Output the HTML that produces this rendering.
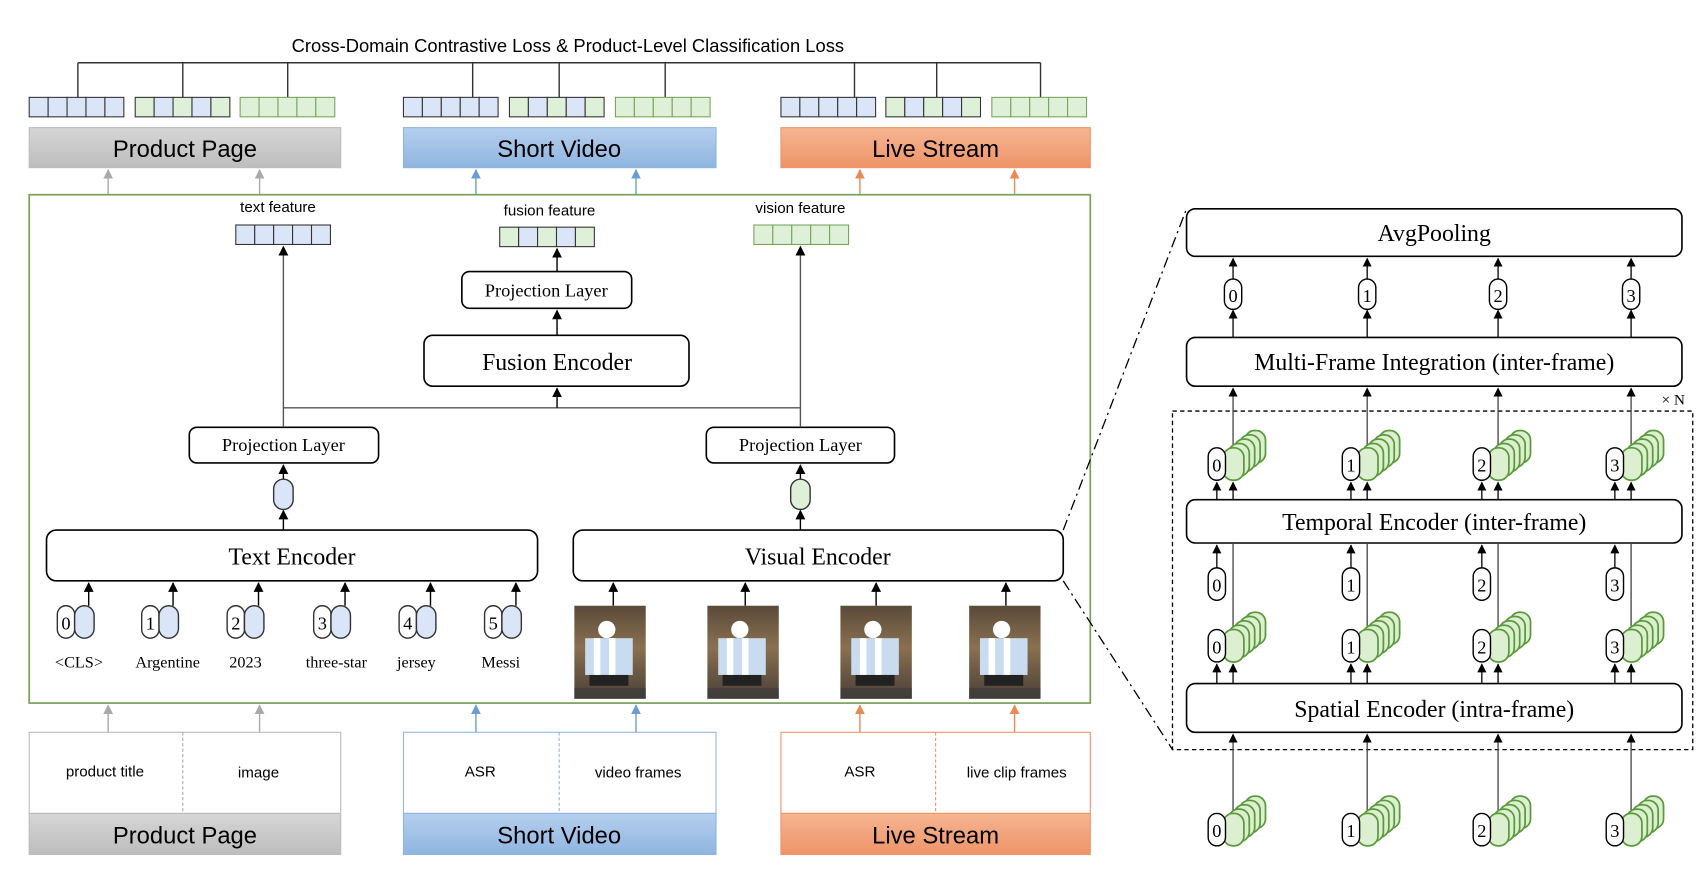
<!DOCTYPE html>
<html><head><meta charset="utf-8"><style>
html,body{margin:0;padding:0;background:#fff;}
svg{display:block}
.s{font-family:"Liberation Sans",sans-serif}
.r{font-family:"Liberation Serif",serif}
</style></head><body>
<svg width="1696" height="874" viewBox="0 0 1568 808" xmlns="http://www.w3.org/2000/svg">
<defs>
<marker id="ak" viewBox="0 0 10 10" refX="9" refY="5" markerWidth="7" markerHeight="7" orient="auto"><path d="M0,0L10,5L0,10z" fill="#000"/></marker>
<marker id="ag" viewBox="0 0 10 10" refX="9" refY="5" markerWidth="7" markerHeight="7" orient="auto"><path d="M0,0L10,5L0,10z" fill="#aaa"/></marker>
<marker id="ab" viewBox="0 0 10 10" refX="9" refY="5" markerWidth="7" markerHeight="7" orient="auto"><path d="M0,0L10,5L0,10z" fill="#6a9fd4"/></marker>
<marker id="ao" viewBox="0 0 10 10" refX="9" refY="5" markerWidth="7" markerHeight="7" orient="auto"><path d="M0,0L10,5L0,10z" fill="#ec8a55"/></marker>
<linearGradient id="gg" x1="0" y1="0" x2="0" y2="1"><stop offset="0" stop-color="#d6d6d6"/><stop offset="1" stop-color="#bdbdbd"/></linearGradient>
<linearGradient id="gb" x1="0" y1="0" x2="0" y2="1"><stop offset="0" stop-color="#b5cfee"/><stop offset="1" stop-color="#8fb5e0"/></linearGradient>
<linearGradient id="go" x1="0" y1="0" x2="0" y2="1"><stop offset="0" stop-color="#f6b592"/><stop offset="1" stop-color="#ee9468"/></linearGradient>
<linearGradient id="gp" x1="0" y1="0" x2="0" y2="1"><stop offset="0" stop-color="#5a4a3a"/><stop offset="0.45" stop-color="#8a7050"/><stop offset="1" stop-color="#4a4038"/></linearGradient>
<g id="stk" fill="#dcefd0" stroke="#5a9a3a" stroke-width="1.6">
<rect x="20" y="-16" width="19" height="30" rx="9"/><rect x="15" y="-12" width="19" height="30" rx="9"/><rect x="10" y="-8" width="19" height="30" rx="9"/><rect x="5" y="-4" width="19" height="30" rx="9"/><rect x="0" y="0" width="19" height="30" rx="9"/>
</g>
<g id="tb"><rect width="17.5" height="18" fill="#dae6f7" stroke="#333" stroke-width="1"/></g>
<g id="tg"><rect width="17.5" height="18" fill="#dff0d8" stroke="#333" stroke-width="1"/></g>
<g id="tgg"><rect width="17.5" height="18" fill="#dff0d8" stroke="#7aa35a" stroke-width="1"/></g>
<g id="vb"><use href="#tb"/><use href="#tb" x="17.5"/><use href="#tb" x="35"/><use href="#tb" x="52.5"/><use href="#tb" x="70"/></g>
<g id="vm"><use href="#tg"/><use href="#tb" x="17.5"/><use href="#tg" x="35"/><use href="#tb" x="52.5"/><use href="#tg" x="70"/></g>
<g id="vg"><use href="#tgg"/><use href="#tgg" x="17.5"/><use href="#tgg" x="35"/><use href="#tgg" x="52.5"/><use href="#tgg" x="70"/></g>
<g id="photo"><rect width="66" height="86" fill="url(#gp)"/><rect x="10" y="30" width="44" height="34" fill="#c9dcef"/><rect x="18" y="30" width="6" height="34" fill="#fff"/><rect x="32" y="30" width="6" height="34" fill="#fff"/><circle cx="30" cy="22" r="8" fill="#fff"/><rect x="14" y="64" width="36" height="10" fill="#222"/><rect x="0" y="76" width="66" height="10" fill="#3a3a3a" opacity="0.6"/></g>
</defs>

<text x="525" y="48" class="s" font-size="17" text-anchor="middle">Cross-Domain Contrastive Loss &amp; Product-Level Classification Loss</text>
<g stroke="#333" stroke-width="1.3" fill="none">
<path d="M72,58H962"/>
<path d="M72,58V90M169,58V90M266,58V90M437,58V90M517,58V90M615,58V90M790,58V90M866,58V90M962,58V90"/>
</g>
<use href="#vb" x="27" y="90"/><use href="#vm" x="125" y="90"/><use href="#vg" x="222" y="90"/>
<use href="#vb" x="373" y="90"/><use href="#vm" x="471" y="90"/><use href="#vg" x="569" y="90"/>
<use href="#vb" x="722" y="90"/><use href="#vm" x="819" y="90"/><use href="#vg" x="917" y="90"/>

<rect x="27" y="118" width="288" height="37" fill="url(#gg)" stroke="#bbb"/>
<text x="171" y="145" class="s" font-size="22" text-anchor="middle">Product Page</text>
<rect x="373" y="118" width="289" height="37" fill="url(#gb)" stroke="#8fb5e0"/>
<text x="517" y="145" class="s" font-size="22" text-anchor="middle">Short Video</text>
<rect x="722" y="118" width="286" height="37" fill="url(#go)" stroke="#ee9468"/>
<text x="865" y="145" class="s" font-size="22" text-anchor="middle">Live Stream</text>

<g stroke-width="1.3">
<path d="M100,180V157" stroke="#aaa" marker-end="url(#ag)"/><path d="M240,180V157" stroke="#aaa" marker-end="url(#ag)"/>
<path d="M440,180V157" stroke="#6a9fd4" marker-end="url(#ab)"/><path d="M588,180V157" stroke="#6a9fd4" marker-end="url(#ab)"/>
<path d="M795,180V157" stroke="#ec8a55" marker-end="url(#ao)"/><path d="M938,180V157" stroke="#ec8a55" marker-end="url(#ao)"/>
<path d="M100,677V652" stroke="#aaa" marker-end="url(#ag)"/><path d="M240,677V652" stroke="#aaa" marker-end="url(#ag)"/>
<path d="M440,677V652" stroke="#6a9fd4" marker-end="url(#ab)"/><path d="M588,677V652" stroke="#6a9fd4" marker-end="url(#ab)"/>
<path d="M795,677V652" stroke="#ec8a55" marker-end="url(#ao)"/><path d="M938,677V652" stroke="#ec8a55" marker-end="url(#ao)"/>
</g>

<rect x="27" y="180" width="981" height="470" fill="none" stroke="#7aa35a" stroke-width="1.6"/>

<text x="257" y="196" class="s" font-size="14" text-anchor="middle">text feature</text>
<use href="#vb" x="218" y="208"/>
<text x="508" y="199" class="s" font-size="14" text-anchor="middle">fusion feature</text>
<use href="#vm" x="462" y="210"/>
<text x="740" y="197" class="s" font-size="14" text-anchor="middle">vision feature</text>
<use href="#vg" x="697" y="208"/>

<g fill="#fff" stroke="#000" stroke-width="1.5">
<rect x="427" y="251" width="157" height="34" rx="7"/>
<rect x="392" y="310" width="245" height="47" rx="8"/>
<rect x="175" y="395" width="175" height="33" rx="7"/>
<rect x="653" y="395" width="174" height="33" rx="7"/>
<rect x="43" y="490" width="454" height="47" rx="9"/>
<rect x="530" y="490" width="453" height="47" rx="9"/>
</g>
<text x="505" y="274" class="r" font-size="17" text-anchor="middle">Projection Layer</text>
<text x="515" y="342" class="r" font-size="22" text-anchor="middle">Fusion Encoder</text>
<text x="262" y="417" class="r" font-size="17" text-anchor="middle">Projection Layer</text>
<text x="740" y="417" class="r" font-size="17" text-anchor="middle">Projection Layer</text>
<text x="270" y="522" class="r" font-size="22" text-anchor="middle">Text Encoder</text>
<text x="756" y="522" class="r" font-size="22" text-anchor="middle">Visual Encoder</text>

<g stroke="#000" stroke-width="1.3" fill="none">
<path d="M262,395V228" stroke="#555" marker-end="url(#ak)"/>
<path d="M740,395V228" stroke="#555" marker-end="url(#ak)"/>
<path d="M262,377H740" stroke="#555"/>
<path d="M515,377V359" marker-end="url(#ak)"/>
<path d="M515,310V287" marker-end="url(#ak)"/>
<path d="M515,251V230" marker-end="url(#ak)"/>
<path d="M262,443V430" marker-end="url(#ak)"/>
<path d="M740,443V430" marker-end="url(#ak)"/>
<path d="M262,490V472" marker-end="url(#ak)"/>
<path d="M740,490V472" marker-end="url(#ak)"/>
</g>
<rect x="253" y="443" width="18" height="28" rx="9" fill="#dae6f7" stroke="#333" stroke-width="1.3"/>
<rect x="731" y="443" width="18" height="28" rx="9" fill="#dff0d8" stroke="#333" stroke-width="1.3"/>

<!-- tokens -->
<g stroke="#000" stroke-width="1.3" fill="none" marker-end="url(#ak)">
<path d="M82,560V539"/><path d="M160,560V539"/><path d="M239,560V539"/><path d="M319,560V539"/><path d="M398,560V539"/><path d="M477,560V539"/>
<path d="M567,560V539"/><path d="M689,560V539"/><path d="M810,560V539"/><path d="M930,560V539"/>
</g>
<g stroke="#333" stroke-width="1.3">
<rect x="53" y="560" width="16" height="30" rx="8" fill="#fff"/><rect x="69" y="560" width="18" height="30" rx="9" fill="#dae6f7"/>
<rect x="131" y="560" width="16" height="30" rx="8" fill="#fff"/><rect x="147" y="560" width="18" height="30" rx="9" fill="#dae6f7"/>
<rect x="210" y="560" width="16" height="30" rx="8" fill="#fff"/><rect x="226" y="560" width="18" height="30" rx="9" fill="#dae6f7"/>
<rect x="290" y="560" width="16" height="30" rx="8" fill="#fff"/><rect x="306" y="560" width="18" height="30" rx="9" fill="#dae6f7"/>
<rect x="369" y="560" width="16" height="30" rx="8" fill="#fff"/><rect x="385" y="560" width="18" height="30" rx="9" fill="#dae6f7"/>
<rect x="448" y="560" width="16" height="30" rx="8" fill="#fff"/><rect x="464" y="560" width="18" height="30" rx="9" fill="#dae6f7"/>
</g>
<g class="r" font-size="17" text-anchor="middle">
<text x="61" y="582">0</text><text x="139" y="582">1</text><text x="218" y="582">2</text><text x="298" y="582">3</text><text x="377" y="582">4</text><text x="456" y="582">5</text>
</g>
<g class="r" font-size="15" text-anchor="middle">
<text x="73" y="617">&lt;CLS&gt;</text><text x="155" y="617">Argentine</text><text x="227" y="617">2023</text><text x="311" y="617">three-star</text><text x="385" y="617">jersey</text><text x="463" y="617">Messi</text>
</g>
<use href="#photo" x="531" y="560"/><use href="#photo" x="654" y="560"/><use href="#photo" x="777" y="560"/><use href="#photo" x="896" y="560"/>

<!-- bottom inputs -->
<rect x="27" y="677" width="288" height="75" fill="#fff" stroke="#bbb"/>
<path d="M169,677V752" stroke="#aaa" stroke-dasharray="3,2"/>
<text x="97" y="718" class="s" font-size="14" text-anchor="middle">product title</text>
<text x="239" y="719" class="s" font-size="14" text-anchor="middle">image</text>
<rect x="27" y="752" width="288" height="38" fill="url(#gg)" stroke="#bbb"/>
<text x="171" y="780" class="s" font-size="22" text-anchor="middle">Product Page</text>

<rect x="373" y="677" width="289" height="75" fill="#fff" stroke="#8fb5e0"/>
<path d="M517,677V752" stroke="#8fb5e0" stroke-dasharray="3,2"/>
<text x="444" y="718" class="s" font-size="14" text-anchor="middle">ASR</text>
<text x="590" y="719" class="s" font-size="14" text-anchor="middle">video frames</text>
<rect x="373" y="752" width="289" height="38" fill="url(#gb)" stroke="#8fb5e0"/>
<text x="517" y="780" class="s" font-size="22" text-anchor="middle">Short Video</text>

<rect x="722" y="677" width="286" height="75" fill="#fff" stroke="#ee9468"/>
<path d="M865,677V752" stroke="#ee9468" stroke-dasharray="3,2"/>
<text x="795" y="718" class="s" font-size="14" text-anchor="middle">ASR</text>
<text x="940" y="719" class="s" font-size="14" text-anchor="middle">live clip frames</text>
<rect x="722" y="752" width="286" height="38" fill="url(#go)" stroke="#ee9468"/>
<text x="865" y="780" class="s" font-size="22" text-anchor="middle">Live Stream</text>

<!-- right panel -->
<path d="M983,490L1097,193M983,537L1084,693" stroke="#000" stroke-width="1.2" stroke-dasharray="10,4,2,4" fill="none"/>
<rect x="1084" y="380" width="481" height="313" fill="none" stroke="#000" stroke-width="1.2" stroke-dasharray="4,3"/>
<g fill="#fff" stroke="#000" stroke-width="1.5">
<rect x="1097" y="193" width="458" height="44" rx="8"/>
<rect x="1097" y="312" width="458" height="45" rx="8"/>
<rect x="1097" y="462" width="458" height="40" rx="8"/>
<rect x="1097" y="632" width="458" height="45" rx="8"/>
</g>
<text x="1326" y="223" class="r" font-size="22" text-anchor="middle">AvgPooling</text>
<text x="1326" y="342" class="r" font-size="22" text-anchor="middle">Multi-Frame Integration (inter-frame)</text>
<text x="1326" y="490" class="r" font-size="22" text-anchor="middle">Temporal Encoder (inter-frame)</text>
<text x="1326" y="663" class="r" font-size="22" text-anchor="middle">Spatial Encoder (intra-frame)</text>
<text x="1547" y="374" class="r" font-size="14" text-anchor="middle">× N</text>

<g stroke="#000" stroke-width="1.2" fill="none" marker-end="url(#ak)">
<path d="M1140,312V287"/><path d="M1264,312V287"/><path d="M1385,312V287"/><path d="M1508,312V287"/>
<path d="M1140,258V239"/><path d="M1264,258V239"/><path d="M1385,258V239"/><path d="M1508,258V239"/>
<path d="M1140,425V359" stroke="#444"/><path d="M1264,425V359" stroke="#444"/><path d="M1385,425V359" stroke="#444"/><path d="M1508,425V359" stroke="#444"/>
<path d="M1125,462V446"/><path d="M1249,462V446"/><path d="M1370,462V446"/><path d="M1493,462V446"/>
<path d="M1140,462V446"/><path d="M1264,462V446"/><path d="M1385,462V446"/><path d="M1508,462V446"/>
<path d="M1125,525V504"/><path d="M1249,525V504"/><path d="M1370,525V504"/><path d="M1493,525V504"/>
<path d="M1125,632V614"/><path d="M1249,632V614"/><path d="M1370,632V614"/><path d="M1493,632V614"/>
<path d="M1140,632V614"/><path d="M1264,632V614"/><path d="M1385,632V614"/><path d="M1508,632V614"/>
<path d="M1140,752V679" stroke="#444"/><path d="M1264,752V679" stroke="#444"/><path d="M1385,752V679" stroke="#444"/><path d="M1508,752V679" stroke="#444"/>
</g>
<g stroke="#444" stroke-width="1.2" fill="none">
<path d="M1140,585V502M1264,585V502M1385,585V502M1508,585V502"/>
</g>

<!-- AvgPooling indices -->
<g fill="#fff" stroke="#000" stroke-width="1.3">
<rect x="1132" y="258" width="16" height="28" rx="8"/><rect x="1256" y="258" width="16" height="28" rx="8"/><rect x="1377" y="258" width="16" height="28" rx="8"/><rect x="1500" y="258" width="16" height="28" rx="8"/>
</g>
<g class="r" font-size="17" text-anchor="middle">
<text x="1140" y="279">0</text><text x="1264" y="279">1</text><text x="1385" y="279">2</text><text x="1508" y="279">3</text>
</g>

<!-- stacks rows -->
<use href="#stk" x="1131" y="414"/><use href="#stk" x="1255" y="414"/><use href="#stk" x="1376" y="414"/><use href="#stk" x="1499" y="414"/>
<use href="#stk" x="1131" y="582"/><use href="#stk" x="1255" y="582"/><use href="#stk" x="1376" y="582"/><use href="#stk" x="1499" y="582"/>
<use href="#stk" x="1131" y="752"/><use href="#stk" x="1255" y="752"/><use href="#stk" x="1376" y="752"/><use href="#stk" x="1499" y="752"/>

<g fill="#fff" stroke="#000" stroke-width="1.3">
<rect x="1117" y="414" width="16" height="30" rx="8"/><rect x="1241" y="414" width="16" height="30" rx="8"/><rect x="1362" y="414" width="16" height="30" rx="8"/><rect x="1485" y="414" width="16" height="30" rx="8"/>
<rect x="1117" y="525" width="16" height="30" rx="8"/><rect x="1241" y="525" width="16" height="30" rx="8"/><rect x="1362" y="525" width="16" height="30" rx="8"/><rect x="1485" y="525" width="16" height="30" rx="8"/>
<rect x="1117" y="582" width="16" height="30" rx="8"/><rect x="1241" y="582" width="16" height="30" rx="8"/><rect x="1362" y="582" width="16" height="30" rx="8"/><rect x="1485" y="582" width="16" height="30" rx="8"/>
<rect x="1117" y="752" width="16" height="30" rx="8"/><rect x="1241" y="752" width="16" height="30" rx="8"/><rect x="1362" y="752" width="16" height="30" rx="8"/><rect x="1485" y="752" width="16" height="30" rx="8"/>
</g>
<g class="r" font-size="17" text-anchor="middle">
<text x="1125" y="436">0</text><text x="1249" y="436">1</text><text x="1370" y="436">2</text><text x="1493" y="436">3</text>
<text x="1125" y="547">0</text><text x="1249" y="547">1</text><text x="1370" y="547">2</text><text x="1493" y="547">3</text>
<text x="1125" y="604">0</text><text x="1249" y="604">1</text><text x="1370" y="604">2</text><text x="1493" y="604">3</text>
<text x="1125" y="774">0</text><text x="1249" y="774">1</text><text x="1370" y="774">2</text><text x="1493" y="774">3</text>
</g>
</svg>
</body></html>
